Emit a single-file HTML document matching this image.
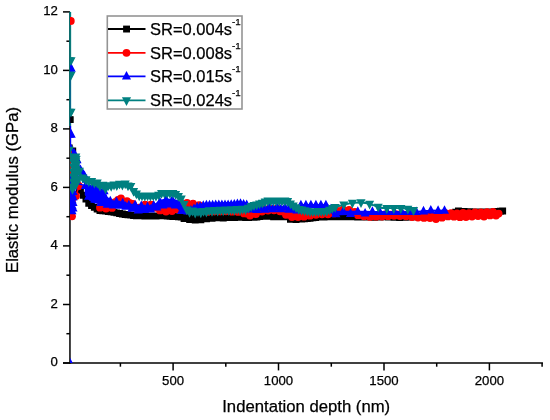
<!DOCTYPE html>
<html><head><meta charset="utf-8"><title>Elastic modulus vs indentation depth</title>
<style>
html,body{margin:0;padding:0;background:#fff;}
body{width:550px;height:420px;overflow:hidden;}
svg{display:block;}
text{font-family:"Liberation Sans",Arial,sans-serif;fill:#000;stroke:#000;stroke-width:0.25px;}
.tk{font-size:13.2px;}
.ti{font-size:16.7px;}
.lg{font-size:16.5px;}
.sup{font-size:9.8px;}
</style></head><body>
<svg width="550" height="420" viewBox="0 0 550 420">
<defs><clipPath id="pc"><rect x="70" y="11.9" width="472.20000000000005" height="351.1"/></clipPath></defs>
<path d="M69.95 11.9V363.75" stroke="#000" stroke-width="1.5" fill="none"/>
<path d="M63 363.0H542.95" stroke="#000" stroke-width="1.5" fill="none"/>
<path d="M63 363H69.95" stroke="#000" stroke-width="1.5"/>
<path d="M66.4 333.7H69.95" stroke="#000" stroke-width="1.5"/>
<path d="M63 304.5H69.95" stroke="#000" stroke-width="1.5"/>
<path d="M66.4 275.2H69.95" stroke="#000" stroke-width="1.5"/>
<path d="M63 245.9H69.95" stroke="#000" stroke-width="1.5"/>
<path d="M66.4 216.7H69.95" stroke="#000" stroke-width="1.5"/>
<path d="M63 187.4H69.95" stroke="#000" stroke-width="1.5"/>
<path d="M66.4 158.2H69.95" stroke="#000" stroke-width="1.5"/>
<path d="M63 128.9H69.95" stroke="#000" stroke-width="1.5"/>
<path d="M66.4 99.7H69.95" stroke="#000" stroke-width="1.5"/>
<path d="M63 70.4H69.95" stroke="#000" stroke-width="1.5"/>
<path d="M66.4 41.2H69.95" stroke="#000" stroke-width="1.5"/>
<path d="M63 11.9H69.95" stroke="#000" stroke-width="1.5"/>
<path d="M120.4 363.0V366.7" stroke="#000" stroke-width="1.5"/>
<path d="M173.1 363.0V370.4" stroke="#000" stroke-width="1.5"/>
<path d="M225.8 363.0V366.7" stroke="#000" stroke-width="1.5"/>
<path d="M278.5 363.0V370.4" stroke="#000" stroke-width="1.5"/>
<path d="M331.3 363.0V366.7" stroke="#000" stroke-width="1.5"/>
<path d="M384 363.0V370.4" stroke="#000" stroke-width="1.5"/>
<path d="M436.7 363.0V366.7" stroke="#000" stroke-width="1.5"/>
<path d="M489.4 363.0V370.4" stroke="#000" stroke-width="1.5"/>
<path d="M542.1 363.0V366.7" stroke="#000" stroke-width="1.5"/>
<path d="M70.2 11.9V126" stroke="#008080" stroke-width="1.9" fill="none"/>
<g clip-path="url(#pc)">
<path d="M80.4 190.2 L83 193.9 L86.5 199.4 L90 203.9 L93 206.5 L96 208.2 L100 210.4 L111 211.8 L124 214.2 L136 215.8 L150 216 L165 215.8 L180 216.9 L186 216.4 L200 217.4 L210 215.9 L225 215.4 L240 216.4 L247 217.5 L255 217.2 L265 215.9 L275 214.9 L286 214.9 L290 218.4 L300 218.9 L312 218 L320 217 L335 216.8 L350 216.8 L360 217 L375 217.2 L385 216.8 L400 217.5 L410 217 L425 216.5 L440 215.8 L450 215 L458 211 L466 211.8 L490 212 L499 211.5 L502.7 210.9 L502.7 210.9 L499 211.5 L490 212 L466 211.8 L458 211 L450 215 L440 215.8 L425 216.5 L410 217 L400 217.5 L385 216.8 L375 217.2 L360 217 L350 216.8 L335 216.8 L320 217 L312 218 L300 219.6 L290 219.6 L286 217.1 L275 217.1 L265 216.1 L255 217.2 L247 217.5 L240 217.6 L225 218.1 L210 218.6 L200 220.1 L186 220.1 L180 217.1 L165 215.8 L150 216 L136 215.8 L124 214.2 L111 211.8 L100 210.6 L96 208.2 L93 206.5 L90 204.6 L86.5 201.1 L83 195.1 L80.4 190.2 z" fill="#000000" stroke="#000000" stroke-width="1.5" stroke-linejoin="round"/>
<path d="M69.2 119.7 L69.2 148 L72.8 151 L75 172 L77 185 L79.5 189.5 L80.4 190.2 L83.2 195.3 L86 199 L88.8 203.3 L91.6 205.4 L94.4 207.3 L97.2 208.9 L100 210.5 L102.8 210.8 L105.6 211.1 L108.4 211.5 L111.2 211.8 L114 212.3 L116.8 212.9 L119.6 213.4 L122.4 213.9 L125.2 214.4 L128 214.8 L130.8 215.1 L133.6 215.4 L136.4 215.8 L139.2 215.8 L142 215.9 L144.8 215.9 L147.6 216 L150.4 216 L153.2 216 L156 215.9 L158.8 215.9 L161.6 215.8 L164.4 215.8 L167.2 216 L170 216.2 L172.8 216.4 L175.6 216.6 L178.4 216.9 L181.2 217 L184 218.5 L186.8 217.2 L189.6 219.5 L192.4 217.1 L195.2 219.9 L198 217.5 L200.8 219.9 L203.6 217.3 L206.4 218.9 L209.2 216.6 L212 218.3 L214.8 216.3 L217.6 217.8 L220.4 215.6 L223.2 218 L226 216 L228.8 217.7 L231.6 216.3 L234.4 217.6 L237.2 216.3 L240 217.4 L242.8 217.2 L245.6 217.4 L248.4 217.5 L251.2 217.4 L254 217.3 L256.8 217 L259.6 216.7 L262.4 216.3 L265.2 215.9 L268 216.3 L270.8 215.6 L273.6 216.8 L276.4 215.2 L279.2 216.8 L282 215 L284.8 216.7 L287.6 216.4 L290.4 219.4 L293.2 218.6 L296 219.5 L298.8 218.9 L301.6 219.1 L304.4 218.8 L307.2 218.5 L310 218.2 L312.8 217.9 L315.6 217.5 L318.4 217.2 L321.2 217 L324 216.9 L326.8 216.9 L329.6 216.8 L332.4 216.8 L335.2 216.8 L338 216.8 L340.8 216.8 L343.6 216.8 L346.4 216.8 L349.2 216.8 L352 216.8 L354.8 216.9 L357.6 216.9 L360.4 217 L363.2 217.1 L366 217.1 L368.8 217.1 L371.6 217.2 L374.4 217.2 L377.2 217.1 L380 217 L382.8 216.9 L385.6 216.8 L388.4 216.9 L391.2 217.1 L394 217.2 L396.8 217.3 L399.6 217.5 L402.4 217.4 L405.2 217.2 L408 217.1 L410.8 217 L413.6 216.9 L416.4 216.8 L419.2 216.7 L422 216.6 L424.8 216.5 L427.6 216.4 L430.4 216.2 L433.2 216.1 L436 215.9 L438.8 215.8 L441.6 215.6 L444.4 215.4 L447.2 215.2 L450 215 L452.8 213.6 L455.6 212.2 L458.4 211 L461.2 211.3 L464 211.6 L466.8 211.8 L469.6 211.8 L472.4 211.8 L475.2 211.8 L478 211.9 L480.8 211.9 L483.6 211.9 L486.4 212 L489.2 212 L492 211.9 L494.8 211.7 L497.6 211.6 L500.4 211.3 L502.7 210.9" fill="none" stroke="#000000" stroke-width="1.5" stroke-linejoin="round"/>
<path d="M65.8 116.2h6.9v6.9h-6.9zM65.8 144.6h6.9v6.9h-6.9zM69.3 147.6h6.9v6.9h-6.9zM71.5 168.6h6.9v6.9h-6.9zM73.5 181.6h6.9v6.9h-6.9zM76 186.1h6.9v6.9h-6.9zM77 186.8h6.9v6.9h-6.9zM79.8 191.8h6.9v6.9h-6.9zM82.5 195.5h6.9v6.9h-6.9zM85.3 199.8h6.9v6.9h-6.9zM88.1 202h6.9v6.9h-6.9zM90.9 203.9h6.9v6.9h-6.9zM93.7 205.5h6.9v6.9h-6.9zM96.5 207.1h6.9v6.9h-6.9zM99.3 207.4h6.9v6.9h-6.9zM102.1 207.7h6.9v6.9h-6.9zM104.9 208h6.9v6.9h-6.9zM107.7 208.3h6.9v6.9h-6.9zM110.5 208.9h6.9v6.9h-6.9zM113.3 209.4h6.9v6.9h-6.9zM116.1 210h6.9v6.9h-6.9zM118.9 210.5h6.9v6.9h-6.9zM121.7 211h6.9v6.9h-6.9zM124.5 211.3h6.9v6.9h-6.9zM127.3 211.7h6.9v6.9h-6.9zM130.1 212h6.9v6.9h-6.9zM132.9 212.3h6.9v6.9h-6.9zM135.8 212.4h6.9v6.9h-6.9zM138.6 212.4h6.9v6.9h-6.9zM141.4 212.5h6.9v6.9h-6.9zM144.2 212.5h6.9v6.9h-6.9zM147 212.5h6.9v6.9h-6.9zM149.8 212.5h6.9v6.9h-6.9zM152.6 212.5h6.9v6.9h-6.9zM155.4 212.4h6.9v6.9h-6.9zM158.2 212.4h6.9v6.9h-6.9zM161 212.4h6.9v6.9h-6.9zM163.8 212.5h6.9v6.9h-6.9zM166.6 212.8h6.9v6.9h-6.9zM169.4 213h6.9v6.9h-6.9zM172.2 213.2h6.9v6.9h-6.9zM175 213.4h6.9v6.9h-6.9zM177.8 213.6h6.9v6.9h-6.9zM180.6 215.1h6.9v6.9h-6.9zM183.4 213.7h6.9v6.9h-6.9zM186.2 216.1h6.9v6.9h-6.9zM189 213.7h6.9v6.9h-6.9zM191.8 216.5h6.9v6.9h-6.9zM194.6 214h6.9v6.9h-6.9zM197.4 216.4h6.9v6.9h-6.9zM200.2 213.9h6.9v6.9h-6.9zM203 215.4h6.9v6.9h-6.9zM205.8 213.1h6.9v6.9h-6.9zM208.6 214.8h6.9v6.9h-6.9zM211.4 212.9h6.9v6.9h-6.9zM214.2 214.4h6.9v6.9h-6.9zM217 212.2h6.9v6.9h-6.9zM219.8 214.5h6.9v6.9h-6.9zM222.6 212.6h6.9v6.9h-6.9zM225.4 214.2h6.9v6.9h-6.9zM228.2 212.9h6.9v6.9h-6.9zM231 214.1h6.9v6.9h-6.9zM233.8 212.8h6.9v6.9h-6.9zM236.6 213.9h6.9v6.9h-6.9zM239.4 213.8h6.9v6.9h-6.9zM242.2 214h6.9v6.9h-6.9zM245 214h6.9v6.9h-6.9zM247.8 213.9h6.9v6.9h-6.9zM250.6 213.8h6.9v6.9h-6.9zM253.4 213.6h6.9v6.9h-6.9zM256.2 213.2h6.9v6.9h-6.9zM259 212.9h6.9v6.9h-6.9zM261.8 212.5h6.9v6.9h-6.9zM264.6 212.9h6.9v6.9h-6.9zM267.4 212.1h6.9v6.9h-6.9zM270.2 213.4h6.9v6.9h-6.9zM273 211.8h6.9v6.9h-6.9zM275.8 213.4h6.9v6.9h-6.9zM278.6 211.6h6.9v6.9h-6.9zM281.4 213.3h6.9v6.9h-6.9zM284.2 212.9h6.9v6.9h-6.9zM287 215.9h6.9v6.9h-6.9zM289.8 215.2h6.9v6.9h-6.9zM292.6 216h6.9v6.9h-6.9zM295.4 215.5h6.9v6.9h-6.9zM298.2 215.7h6.9v6.9h-6.9zM301 215.3h6.9v6.9h-6.9zM303.8 215h6.9v6.9h-6.9zM306.6 214.8h6.9v6.9h-6.9zM309.4 214.4h6.9v6.9h-6.9zM312.2 214.1h6.9v6.9h-6.9zM315 213.7h6.9v6.9h-6.9zM317.8 213.5h6.9v6.9h-6.9zM320.6 213.5h6.9v6.9h-6.9zM323.4 213.4h6.9v6.9h-6.9zM326.2 213.4h6.9v6.9h-6.9zM329 213.3h6.9v6.9h-6.9zM331.8 213.3h6.9v6.9h-6.9zM334.6 213.3h6.9v6.9h-6.9zM337.4 213.3h6.9v6.9h-6.9zM340.2 213.3h6.9v6.9h-6.9zM343 213.3h6.9v6.9h-6.9zM345.8 213.3h6.9v6.9h-6.9zM348.6 213.4h6.9v6.9h-6.9zM351.4 213.4h6.9v6.9h-6.9zM354.2 213.5h6.9v6.9h-6.9zM357 213.6h6.9v6.9h-6.9zM359.8 213.6h6.9v6.9h-6.9zM362.6 213.7h6.9v6.9h-6.9zM365.4 213.7h6.9v6.9h-6.9zM368.2 213.7h6.9v6.9h-6.9zM371 213.8h6.9v6.9h-6.9zM373.8 213.7h6.9v6.9h-6.9zM376.6 213.5h6.9v6.9h-6.9zM379.4 213.4h6.9v6.9h-6.9zM382.2 213.3h6.9v6.9h-6.9zM385 213.5h6.9v6.9h-6.9zM387.8 213.6h6.9v6.9h-6.9zM390.6 213.8h6.9v6.9h-6.9zM393.4 213.9h6.9v6.9h-6.9zM396.2 214h6.9v6.9h-6.9zM399 213.9h6.9v6.9h-6.9zM401.8 213.8h6.9v6.9h-6.9zM404.6 213.6h6.9v6.9h-6.9zM407.4 213.5h6.9v6.9h-6.9zM410.2 213.4h6.9v6.9h-6.9zM413 213.3h6.9v6.9h-6.9zM415.8 213.2h6.9v6.9h-6.9zM418.6 213.1h6.9v6.9h-6.9zM421.4 213.1h6.9v6.9h-6.9zM424.2 212.9h6.9v6.9h-6.9zM427 212.8h6.9v6.9h-6.9zM429.8 212.6h6.9v6.9h-6.9zM432.6 212.5h6.9v6.9h-6.9zM435.4 212.4h6.9v6.9h-6.9zM438.2 212.2h6.9v6.9h-6.9zM441 212h6.9v6.9h-6.9zM443.8 211.8h6.9v6.9h-6.9zM446.6 211.5h6.9v6.9h-6.9zM449.4 210.1h6.9v6.9h-6.9zM452.2 208.7h6.9v6.9h-6.9zM455 207.6h6.9v6.9h-6.9zM457.8 207.9h6.9v6.9h-6.9zM460.6 208.1h6.9v6.9h-6.9zM463.4 208.3h6.9v6.9h-6.9zM466.2 208.3h6.9v6.9h-6.9zM469 208.4h6.9v6.9h-6.9zM471.8 208.4h6.9v6.9h-6.9zM474.6 208.4h6.9v6.9h-6.9zM477.4 208.5h6.9v6.9h-6.9zM480.2 208.5h6.9v6.9h-6.9zM483 208.5h6.9v6.9h-6.9zM485.8 208.5h6.9v6.9h-6.9zM488.6 208.4h6.9v6.9h-6.9zM491.4 208.3h6.9v6.9h-6.9zM494.2 208.1h6.9v6.9h-6.9zM497 207.8h6.9v6.9h-6.9zM499.2 207.5h6.9v6.9h-6.9z" fill="#000000"/>
<path d="M66.8 116.2h6.9v6.9h-6.9z" fill="#000000"/>
<path d="M97 199 L100 206 L104 206.5 L108 206.5 L112 206 L115 202 L118.5 197.5 L121 198 L124 201 L127 201 L130 201.5 L133 204 L136 206 L139.5 208 L143 206 L146 204 L149 204 L152 205 L156 207 L160 208.5 L164 209.5 L168 209.5 L172 209.5 L176 208.5 L180 206 L184 203 L188 203 L192 203.5 L195 204 L199 205 L203 208 L207 209.5 L211 210.5 L215 209.5 L220 209.5 L230 209.5 L240 210.5 L245 212 L248 214 L255 213 L260 210 L265 209 L270 208.5 L278 208.5 L284 212 L290 215 L300 215.5 L310 214 L312 213.5 L318 212.5 L325 212.5 L330 212.5 L336 211 L340 209.5 L345 209.5 L350 210 L356 212 L360 214.5 L370 215 L385 214.5 L400 214 L415 215.5 L430 216.5 L440 214.6 L445 212.6 L455 212.6 L465 212.6 L480 212.1 L490 211.6 L498.6 211.2 L498.6 216 L490 216.4 L480 216.9 L465 217.4 L455 217.4 L445 217.4 L440 219.4 L430 218.5 L415 217.5 L400 216 L385 216.5 L370 217 L360 216.5 L356 214 L350 212 L345 211.5 L340 211.5 L336 213 L330 214.5 L325 214.5 L318 214.5 L312 215.5 L310 216 L300 217.5 L290 217 L284 214 L278 210.5 L270 210.5 L265 211 L260 212 L255 215 L248 216 L245 214 L240 212.5 L230 211.5 L220 211.5 L215 211.5 L211 212.5 L207 211.5 L203 210 L199 207 L195 206 L192 205.5 L188 205 L184 205 L180 208 L176 210.5 L172 211.5 L168 211.5 L164 211.5 L160 210.5 L156 209 L152 207 L149 206 L146 206 L143 208 L139.5 210 L136 208 L133 206 L130 203.5 L127 203 L124 203 L121 200 L118.5 199.5 L115 204 L112 208 L108 208.5 L104 208.5 L100 208 L97 201 z" fill="#ff0000" stroke="#ff0000" stroke-width="1.5" stroke-linejoin="round"/>
<path d="M69.3 20.9 L69.3 150 L72 216.3 L76 196 L78.9 186 L94.2 191.2 L97 199.2 L100 207.7 L103 206.6 L106 208.5 L109 206.3 L112 207.9 L115 202.1 L118 199.8 L121 198.3 L124 202.8 L127 201.2 L130 203.2 L133 204 L136 207.8 L139 207.7 L142 208.2 L145 204.6 L148 205.7 L151 204.7 L154 207.7 L157 207.5 L160 210.4 L163 209.6 L166 211.5 L169 209.5 L172 211.1 L175 208.9 L178 209.3 L181 205.7 L184 204.6 L187 203 L190 205.1 L193 203.7 L196 206.2 L199 205.2 L202 209.2 L205 209 L208 211.8 L211 210.5 L214 211.4 L217 209.6 L220 211.4 L223 209.7 L226 211.3 L229 209.6 L232 211.7 L235 210.3 L238 211.9 L241 211.2 L244 213.4 L247 213.4 L250 215.6 L253 213.6 L256 214.1 L259 210.6 L262 211.5 L265 209.1 L268 210.5 L271 208.8 L274 210.3 L277 208.5 L280 211.3 L283 211.6 L286 214.8 L289 214.6 L292 217 L295 215.4 L298 217.1 L301 215.3 L304 216.7 L307 214.5 L310 215.7 L313 213.3 L316 214.8 L319 212.6 L322 214.3 L325 212.5 L328 214.3 L331 212.3 L334 213.4 L337 210.8 L340 211.1 L343 209.7 L346 211.2 L349 209.9 L352 212.3 L355 211.8 L358 215.2 L361 214.8 L364 216.3 L367 214.8 L370 216.9 L373 215.2 L376 216.7 L379 214.8 L382 216.6 L385 214.5 L388 216.2 L391 214.7 L394 215.8 L397 214.3 L400 216 L403 214.4 L406 216.3 L409 215.2 L412 217 L415 215.6 L418 217.5 L421 216.1 L424 217.9 L427 216.4 L430 218.1 L433 216.5 L436 219 L439 215 L442 217.7 L445 212.9 L448 216.4 L451 213.1 L454 216.7 L457 213.3 L460 217.2 L463 212.9 L466 217.1 L469 213.2 L472 216.5 L475 212.4 L478 216.1 L481 212.5 L484 216.5 L487 212.2 L490 215.4 L493 212 L496 215.5 L498.6 213.6" fill="none" stroke="#ff0000" stroke-width="1.5" stroke-linejoin="round"/>
<g fill="#ff0000"><circle cx="69.3" cy="20.9" r="3.9"/><circle cx="69.3" cy="150" r="3.9"/><circle cx="72" cy="216.3" r="3.9"/><circle cx="76" cy="196" r="3.9"/><circle cx="78.9" cy="186" r="3.9"/><circle cx="94.2" cy="191.2" r="3.9"/><circle cx="97" cy="199.2" r="3.9"/><circle cx="100" cy="207.7" r="3.9"/><circle cx="103" cy="206.6" r="3.9"/><circle cx="106" cy="208.5" r="3.9"/><circle cx="109" cy="206.3" r="3.9"/><circle cx="112" cy="207.9" r="3.9"/><circle cx="115" cy="202.1" r="3.9"/><circle cx="118" cy="199.8" r="3.9"/><circle cx="121" cy="198.3" r="3.9"/><circle cx="124" cy="202.8" r="3.9"/><circle cx="127" cy="201.2" r="3.9"/><circle cx="130" cy="203.2" r="3.9"/><circle cx="133" cy="204" r="3.9"/><circle cx="136" cy="207.8" r="3.9"/><circle cx="139" cy="207.7" r="3.9"/><circle cx="142" cy="208.2" r="3.9"/><circle cx="145" cy="204.6" r="3.9"/><circle cx="148" cy="205.7" r="3.9"/><circle cx="151" cy="204.7" r="3.9"/><circle cx="154" cy="207.7" r="3.9"/><circle cx="157" cy="207.5" r="3.9"/><circle cx="160" cy="210.4" r="3.9"/><circle cx="163" cy="209.6" r="3.9"/><circle cx="166" cy="211.5" r="3.9"/><circle cx="169" cy="209.5" r="3.9"/><circle cx="172" cy="211.1" r="3.9"/><circle cx="175" cy="208.9" r="3.9"/><circle cx="178" cy="209.3" r="3.9"/><circle cx="181" cy="205.7" r="3.9"/><circle cx="184" cy="204.6" r="3.9"/><circle cx="187" cy="203" r="3.9"/><circle cx="190" cy="205.1" r="3.9"/><circle cx="193" cy="203.7" r="3.9"/><circle cx="196" cy="206.2" r="3.9"/><circle cx="199" cy="205.2" r="3.9"/><circle cx="202" cy="209.2" r="3.9"/><circle cx="205" cy="209" r="3.9"/><circle cx="208" cy="211.8" r="3.9"/><circle cx="211" cy="210.5" r="3.9"/><circle cx="214" cy="211.4" r="3.9"/><circle cx="217" cy="209.6" r="3.9"/><circle cx="220" cy="211.4" r="3.9"/><circle cx="223" cy="209.7" r="3.9"/><circle cx="226" cy="211.3" r="3.9"/><circle cx="229" cy="209.6" r="3.9"/><circle cx="232" cy="211.7" r="3.9"/><circle cx="235" cy="210.3" r="3.9"/><circle cx="238" cy="211.9" r="3.9"/><circle cx="241" cy="211.2" r="3.9"/><circle cx="244" cy="213.4" r="3.9"/><circle cx="247" cy="213.4" r="3.9"/><circle cx="250" cy="215.6" r="3.9"/><circle cx="253" cy="213.6" r="3.9"/><circle cx="256" cy="214.1" r="3.9"/><circle cx="259" cy="210.6" r="3.9"/><circle cx="262" cy="211.5" r="3.9"/><circle cx="265" cy="209.1" r="3.9"/><circle cx="268" cy="210.5" r="3.9"/><circle cx="271" cy="208.8" r="3.9"/><circle cx="274" cy="210.3" r="3.9"/><circle cx="277" cy="208.5" r="3.9"/><circle cx="280" cy="211.3" r="3.9"/><circle cx="283" cy="211.6" r="3.9"/><circle cx="286" cy="214.8" r="3.9"/><circle cx="289" cy="214.6" r="3.9"/><circle cx="292" cy="217" r="3.9"/><circle cx="295" cy="215.4" r="3.9"/><circle cx="298" cy="217.1" r="3.9"/><circle cx="301" cy="215.3" r="3.9"/><circle cx="304" cy="216.7" r="3.9"/><circle cx="307" cy="214.5" r="3.9"/><circle cx="310" cy="215.7" r="3.9"/><circle cx="313" cy="213.3" r="3.9"/><circle cx="316" cy="214.8" r="3.9"/><circle cx="319" cy="212.6" r="3.9"/><circle cx="322" cy="214.3" r="3.9"/><circle cx="325" cy="212.5" r="3.9"/><circle cx="328" cy="214.3" r="3.9"/><circle cx="331" cy="212.3" r="3.9"/><circle cx="334" cy="213.4" r="3.9"/><circle cx="337" cy="210.8" r="3.9"/><circle cx="340" cy="211.1" r="3.9"/><circle cx="343" cy="209.7" r="3.9"/><circle cx="346" cy="211.2" r="3.9"/><circle cx="349" cy="209.9" r="3.9"/><circle cx="352" cy="212.3" r="3.9"/><circle cx="355" cy="211.8" r="3.9"/><circle cx="358" cy="215.2" r="3.9"/><circle cx="361" cy="214.8" r="3.9"/><circle cx="364" cy="216.3" r="3.9"/><circle cx="367" cy="214.8" r="3.9"/><circle cx="370" cy="216.9" r="3.9"/><circle cx="373" cy="215.2" r="3.9"/><circle cx="376" cy="216.7" r="3.9"/><circle cx="379" cy="214.8" r="3.9"/><circle cx="382" cy="216.6" r="3.9"/><circle cx="385" cy="214.5" r="3.9"/><circle cx="388" cy="216.2" r="3.9"/><circle cx="391" cy="214.7" r="3.9"/><circle cx="394" cy="215.8" r="3.9"/><circle cx="397" cy="214.3" r="3.9"/><circle cx="400" cy="216" r="3.9"/><circle cx="403" cy="214.4" r="3.9"/><circle cx="406" cy="216.3" r="3.9"/><circle cx="409" cy="215.2" r="3.9"/><circle cx="412" cy="217" r="3.9"/><circle cx="415" cy="215.6" r="3.9"/><circle cx="418" cy="217.5" r="3.9"/><circle cx="421" cy="216.1" r="3.9"/><circle cx="424" cy="217.9" r="3.9"/><circle cx="427" cy="216.4" r="3.9"/><circle cx="430" cy="218.1" r="3.9"/><circle cx="433" cy="216.5" r="3.9"/><circle cx="436" cy="219" r="3.9"/><circle cx="439" cy="215" r="3.9"/><circle cx="442" cy="217.7" r="3.9"/><circle cx="445" cy="212.9" r="3.9"/><circle cx="448" cy="216.4" r="3.9"/><circle cx="451" cy="213.1" r="3.9"/><circle cx="454" cy="216.7" r="3.9"/><circle cx="457" cy="213.3" r="3.9"/><circle cx="460" cy="217.2" r="3.9"/><circle cx="463" cy="212.9" r="3.9"/><circle cx="466" cy="217.1" r="3.9"/><circle cx="469" cy="213.2" r="3.9"/><circle cx="472" cy="216.5" r="3.9"/><circle cx="475" cy="212.4" r="3.9"/><circle cx="478" cy="216.1" r="3.9"/><circle cx="481" cy="212.5" r="3.9"/><circle cx="484" cy="216.5" r="3.9"/><circle cx="487" cy="212.2" r="3.9"/><circle cx="490" cy="215.4" r="3.9"/><circle cx="493" cy="212" r="3.9"/><circle cx="496" cy="215.5" r="3.9"/><circle cx="498.6" cy="213.6" r="3.9"/></g>
<g fill="#ff0000"><circle cx="70.8" cy="20.9" r="3.9"/></g>
<path d="M85.5 185.4 L90 185.4 L95 186.4 L100 188.4 L104 190.4 L107 197.4 L111 200.9 L120 201.9 L126 204.4 L136 205.2 L149 206.4 L157 203.4 L160 200.4 L165 199.4 L172 199.4 L177 200.4 L180 206.4 L186 211.4 L192 210.1 L197 207.1 L203 205.4 L205 205.1 L215 205.1 L230 204.9 L240 203.6 L247 205.1 L250 208.4 L265 207.4 L275 206.9 L285 206.9 L292 209.4 L298 210.4 L300 205.1 L315 205.1 L328 205.1 L333 211.4 L365 211.4 L380 211.9 L415 211.9 L430 210.4 L444.5 210.4 L444.5 210.8 L430 210.8 L415 211.9 L380 211.9 L365 213.8 L333 214.8 L328 205.1 L315 205.1 L300 205.1 L298 210.4 L292 210.3 L285 209.3 L275 209.3 L265 209.8 L250 209.8 L247 205.1 L240 203.6 L230 204.9 L215 205.1 L205 205.1 L203 206.8 L197 207.1 L192 210.1 L186 211.8 L180 210.8 L177 206.8 L172 205.3 L165 205.3 L160 208 L157 208.1 L149 210.6 L136 210.6 L126 206.8 L120 205.8 L111 205.3 L107 204.8 L104 204.3 L100 203.3 L95 202.8 L90 200.3 L85.5 194.8 z" fill="#0000ff" stroke="#0000ff" stroke-width="1.5" stroke-linejoin="round"/>
<path d="M69.4 68.5 L69.4 134.5 L70.3 148 L74.2 153.4 L77 160 L80.5 170 L82.5 173 L84.5 176 L86.5 179.5 L72 178 L73 180.8 L72 183.5 L73 186.2 L72 189 L73 191.8 L72 194.5 L73 197.2 L72 200 L73 202.8 L72 205.5 L73 208.2 L72 211 L72.5 186 L73 182 L85.5 185.9 L88.6 196.6 L91.7 188.1 L94.8 199.6 L97.9 188.2 L101 202.8 L104.1 191.1 L107.2 204.5 L110.3 201.1 L113.4 205.3 L116.5 202 L119.6 205.6 L122.7 203.2 L125.8 206.5 L128.9 205.2 L132 208.5 L135.1 205.1 L138.2 210.3 L141.3 205.8 L144.4 209.7 L147.5 207 L150.6 209.3 L153.7 205.5 L156.8 207.4 L159.9 202.1 L163 205.2 L166.1 199.7 L169.2 204.2 L172.3 200.1 L175.4 205.3 L178.5 204.1 L181.6 210.8 L184.7 210.4 L187.8 211.2 L190.9 210.4 L194 208.9 L197.1 207.1 L200.2 206.7 L203.3 205.7 L206.4 205.1 L209.5 205.1 L212.6 205.1 L215.7 205 L218.8 205 L221.9 205 L225 204.9 L228.1 204.9 L231.2 204.7 L234.3 204.3 L237.4 203.9 L240.5 203.7 L243.6 204.4 L246.7 205 L249.8 209.3 L252.9 208.3 L256.9 209.7 L260.9 207.8 L264.9 209.6 L268.9 207.2 L272.9 209.1 L276.9 207.4 L280.9 209.1 L284.9 207.3 L288.9 209.5 L292.9 209.6 L296.9 210.3 L300.9 205.1 L305.9 205.1 L310.9 205.1 L315.9 205.1 L320.9 205.1 L325.9 205.1 L330.9 209.2 L335.9 214.1 L343.2 211.5 L350.5 213.7 L357.8 211.6 L365.1 213.4 L372.4 211.7 L379.7 211.9 L387 211.9 L394.3 211.9 L401.6 211.9 L408.9 211.9 L416.2 211.8 L423.5 211.2 L430.8 210.4 L438.1 210.7 L444.5 210.6" fill="none" stroke="#0000ff" stroke-width="1.5" stroke-linejoin="round"/>
<path d="M69.4 63.1l4.55 8.6h-9.1zM69.4 129.1l4.55 8.6h-9.1zM70.3 142.6l4.55 8.6h-9.1zM74.2 148l4.55 8.6h-9.1zM77 154.6l4.55 8.6h-9.1zM80.5 164.6l4.55 8.6h-9.1zM82.5 167.6l4.55 8.6h-9.1zM84.5 170.6l4.55 8.6h-9.1zM86.5 174.1l4.55 8.6h-9.1zM72 172.6l4.55 8.6h-9.1zM73 175.3l4.55 8.6h-9.1zM72 178.1l4.55 8.6h-9.1zM73 180.8l4.55 8.6h-9.1zM72 183.6l4.55 8.6h-9.1zM73 186.3l4.55 8.6h-9.1zM72 189.1l4.55 8.6h-9.1zM73 191.8l4.55 8.6h-9.1zM72 194.6l4.55 8.6h-9.1zM73 197.3l4.55 8.6h-9.1zM72 200.1l4.55 8.6h-9.1zM73 202.8l4.55 8.6h-9.1zM72 205.6l4.55 8.6h-9.1zM72.5 180.6l4.55 8.6h-9.1zM73 176.6l4.55 8.6h-9.1zM85.5 180.5l4.55 8.6h-9.1zM88.6 191.2l4.55 8.6h-9.1zM91.7 182.7l4.55 8.6h-9.1zM94.8 194.2l4.55 8.6h-9.1zM97.9 182.8l4.55 8.6h-9.1zM101 197.4l4.55 8.6h-9.1zM104.1 185.7l4.55 8.6h-9.1zM107.2 199.1l4.55 8.6h-9.1zM110.3 195.7l4.55 8.6h-9.1zM113.4 199.9l4.55 8.6h-9.1zM116.5 196.6l4.55 8.6h-9.1zM119.6 200.2l4.55 8.6h-9.1zM122.7 197.8l4.55 8.6h-9.1zM125.8 201.1l4.55 8.6h-9.1zM128.9 199.8l4.55 8.6h-9.1zM132 203.1l4.55 8.6h-9.1zM135.1 199.7l4.55 8.6h-9.1zM138.2 204.9l4.55 8.6h-9.1zM141.3 200.4l4.55 8.6h-9.1zM144.4 204.3l4.55 8.6h-9.1zM147.5 201.6l4.55 8.6h-9.1zM150.6 203.9l4.55 8.6h-9.1zM153.7 200.1l4.55 8.6h-9.1zM156.8 202l4.55 8.6h-9.1zM159.9 196.7l4.55 8.6h-9.1zM163 199.8l4.55 8.6h-9.1zM166.1 194.3l4.55 8.6h-9.1zM169.2 198.8l4.55 8.6h-9.1zM172.3 194.7l4.55 8.6h-9.1zM175.4 199.9l4.55 8.6h-9.1zM178.5 198.7l4.55 8.6h-9.1zM181.6 205.4l4.55 8.6h-9.1zM184.7 205l4.55 8.6h-9.1zM187.8 205.8l4.55 8.6h-9.1zM190.9 205l4.55 8.6h-9.1zM194 203.5l4.55 8.6h-9.1zM197.1 201.7l4.55 8.6h-9.1zM200.2 201.3l4.55 8.6h-9.1zM203.3 200.3l4.55 8.6h-9.1zM206.4 199.7l4.55 8.6h-9.1zM209.5 199.7l4.55 8.6h-9.1zM212.6 199.7l4.55 8.6h-9.1zM215.7 199.6l4.55 8.6h-9.1zM218.8 199.6l4.55 8.6h-9.1zM221.9 199.6l4.55 8.6h-9.1zM225 199.5l4.55 8.6h-9.1zM228.1 199.5l4.55 8.6h-9.1zM231.2 199.3l4.55 8.6h-9.1zM234.3 198.9l4.55 8.6h-9.1zM237.4 198.5l4.55 8.6h-9.1zM240.5 198.3l4.55 8.6h-9.1zM243.6 199l4.55 8.6h-9.1zM246.7 199.6l4.55 8.6h-9.1zM249.8 203.9l4.55 8.6h-9.1zM252.9 202.9l4.55 8.6h-9.1zM256.9 204.3l4.55 8.6h-9.1zM260.9 202.4l4.55 8.6h-9.1zM264.9 204.2l4.55 8.6h-9.1zM268.9 201.8l4.55 8.6h-9.1zM272.9 203.7l4.55 8.6h-9.1zM276.9 202l4.55 8.6h-9.1zM280.9 203.7l4.55 8.6h-9.1zM284.9 201.9l4.55 8.6h-9.1zM288.9 204.1l4.55 8.6h-9.1zM292.9 204.2l4.55 8.6h-9.1zM296.9 204.9l4.55 8.6h-9.1zM300.9 199.7l4.55 8.6h-9.1zM305.9 199.7l4.55 8.6h-9.1zM310.9 199.7l4.55 8.6h-9.1zM315.9 199.7l4.55 8.6h-9.1zM320.9 199.7l4.55 8.6h-9.1zM325.9 199.7l4.55 8.6h-9.1zM330.9 203.8l4.55 8.6h-9.1zM335.9 208.7l4.55 8.6h-9.1zM343.2 206.1l4.55 8.6h-9.1zM350.5 208.3l4.55 8.6h-9.1zM357.8 206.2l4.55 8.6h-9.1zM365.1 208l4.55 8.6h-9.1zM372.4 206.3l4.55 8.6h-9.1zM379.7 206.5l4.55 8.6h-9.1zM387 206.5l4.55 8.6h-9.1zM394.3 206.5l4.55 8.6h-9.1zM401.6 206.5l4.55 8.6h-9.1zM408.9 206.5l4.55 8.6h-9.1zM416.2 206.4l4.55 8.6h-9.1zM423.5 205.8l4.55 8.6h-9.1zM430.8 205l4.55 8.6h-9.1zM438.1 205.3l4.55 8.6h-9.1zM444.5 205.2l4.55 8.6h-9.1z" fill="#0000ff"/>
<path d="M71.2 63.1l4.55 8.6h-9.1zM71.2 129.1l4.55 8.6h-9.1z" fill="#0000ff"/>
<path d="M70.4 126V151" stroke="#0000ff" stroke-width="1.6" fill="none"/>
<path d="M86 179.7 L93 181.2 L100.7 183.9 L105.8 185.2 L111 185.2 L118.5 183.9 L126 183.4 L131 186.2 L136 193.2 L140 195.7 L158 195.7 L161 193.1 L174 193.1 L178 195.8 L183 200.2 L187 209.7 L195 211.2 L203 211.2 L210 210.2 L247 208.7 L252 205.8 L256 204.8 L262 203.1 L268 200.8 L287 200.8 L292 205.1 L295 206.6 L298 209.1 L310 211.6 L328 211.1 L333 207.8 L337 206.8 L343 204.8 L350 203.3 L358 202.3 L366 202.8 L372 204.8 L378 206.8 L382 208.3 L405 208.3 L413.5 210.3 L413.5 210.3 L405 208.3 L382 208.3 L378 206.8 L372 204.8 L366 202.8 L358 202.3 L350 203.3 L343 204.8 L337 206.8 L333 207.8 L328 211.1 L310 211.6 L298 209.1 L295 206.6 L292 205.1 L287 200.8 L268 200.8 L262 203.1 L256 204.8 L252 205.8 L247 209.4 L210 211.4 L203 212.9 L195 212.9 L187 212.4 L183 201.4 L178 195.8 L174 193.1 L161 193.1 L158 195.9 L140 195.9 L136 194.9 L131 187.8 L126 184.4 L118.5 185.4 L111 186.4 L105.8 189.4 L100.7 186.4 L93 182.4 L86 180.9 z" fill="#008080" stroke="#008080" stroke-width="1.5" stroke-linejoin="round"/>
<path d="M69.2 -30 L69.2 60.5 L69.2 75 L69.2 112 L69.2 150 L72.5 156.6 L73.3 156.6 L76.1 159.1 L73.3 161.6 L76.1 164.1 L73.3 166.6 L76.1 169.1 L73.3 171.6 L76.1 174.1 L73.3 176.6 L76.1 179.1 L73.3 181.6 L76.1 184.1 L73.3 186.6 L75.8 156.6 L75.8 159 L75.8 161.5 L75.8 164 L75.8 166.5 L79.4 170.9 L82.8 177.6 L72.5 189.2 L74.5 184 L77.5 180 L85.5 179.5 L86 179.7 L88.8 181.3 L91.6 181.1 L94.4 182.8 L97.2 182.8 L100 185.9 L102.8 185 L105.6 188.7 L108.4 185.4 L111.2 186.2 L114 184.8 L116.8 185.4 L119.6 183.9 L122.4 184.8 L125.2 183.7 L128 185.7 L130.8 186.2 L133.6 191.2 L136.4 193.7 L139.2 195.7 L142 195.7 L144.8 195.9 L147.6 195.7 L150.4 195.9 L153.2 195.7 L156 195.9 L158.8 195 L161.6 193.1 L164.4 193.1 L167.2 193.1 L170 193.1 L172.8 193.1 L175.6 194.2 L178.4 196.2 L181.2 198.8 L184 204.1 L186.8 209.6 L189.6 212.2 L192.4 210.8 L195.2 212.9 L198 211.5 L200.8 212.7 L203.6 211.2 L206.4 212 L209.2 210.4 L212 211.1 L214.8 210.1 L217.6 211 L220.4 210 L223.2 210.7 L226 209.6 L228.8 210.4 L231.6 209.5 L234.4 210.1 L237.2 209.2 L240 209.8 L242.8 209 L245.6 209.4 L248.4 208 L251.2 206.3 L254 205.3 L256.8 204.6 L259.6 203.7 L262.4 202.9 L265.2 201.8 L268 200.8 L270.8 200.8 L273.6 200.8 L276.4 200.8 L279.2 200.8 L282 200.8 L284.8 200.8 L287.6 201.3 L290.4 203.7 L293.2 205.7 L296 207.4 L298.8 209.2 L301.6 209.8 L304.4 210.4 L307.2 211 L310 211.5 L312.8 211.5 L315.6 211.4 L318.4 211.3 L321.2 211.2 L324 211.2 L326.8 211.1 L329.6 210 L332.4 208.2 L335.2 207.2 L343.8 204.6 L352.4 203 L361 202.5 L369.6 204 L378.2 206.9 L386.8 208.3 L393.8 208.3 L400.8 208.3 L407.8 209 L413.5 210.3" fill="none" stroke="#008080" stroke-width="1.5" stroke-linejoin="round"/>
<path d="M69.2 -24.4l4.55 -8.8h-9.1zM69.2 66.1l4.55 -8.8h-9.1zM69.2 80.6l4.55 -8.8h-9.1zM69.2 117.6l4.55 -8.8h-9.1zM69.2 155.6l4.55 -8.8h-9.1zM72.5 162.2l4.55 -8.8h-9.1zM73.3 162.2l4.55 -8.8h-9.1zM76.1 164.7l4.55 -8.8h-9.1zM73.3 167.2l4.55 -8.8h-9.1zM76.1 169.7l4.55 -8.8h-9.1zM73.3 172.2l4.55 -8.8h-9.1zM76.1 174.7l4.55 -8.8h-9.1zM73.3 177.2l4.55 -8.8h-9.1zM76.1 179.7l4.55 -8.8h-9.1zM73.3 182.2l4.55 -8.8h-9.1zM76.1 184.7l4.55 -8.8h-9.1zM73.3 187.2l4.55 -8.8h-9.1zM76.1 189.7l4.55 -8.8h-9.1zM73.3 192.2l4.55 -8.8h-9.1zM75.8 162.2l4.55 -8.8h-9.1zM75.8 164.6l4.55 -8.8h-9.1zM75.8 167.1l4.55 -8.8h-9.1zM75.8 169.6l4.55 -8.8h-9.1zM75.8 172.1l4.55 -8.8h-9.1zM79.4 176.5l4.55 -8.8h-9.1zM82.8 183.2l4.55 -8.8h-9.1zM72.5 194.8l4.55 -8.8h-9.1zM74.5 189.6l4.55 -8.8h-9.1zM77.5 185.6l4.55 -8.8h-9.1zM85.5 185.1l4.55 -8.8h-9.1zM86 185.3l4.55 -8.8h-9.1zM88.8 186.9l4.55 -8.8h-9.1zM91.6 186.7l4.55 -8.8h-9.1zM94.4 188.4l4.55 -8.8h-9.1zM97.2 188.4l4.55 -8.8h-9.1zM100 191.5l4.55 -8.8h-9.1zM102.8 190.6l4.55 -8.8h-9.1zM105.6 194.3l4.55 -8.8h-9.1zM108.4 191l4.55 -8.8h-9.1zM111.2 191.8l4.55 -8.8h-9.1zM114 190.4l4.55 -8.8h-9.1zM116.8 191l4.55 -8.8h-9.1zM119.6 189.5l4.55 -8.8h-9.1zM122.4 190.4l4.55 -8.8h-9.1zM125.2 189.3l4.55 -8.8h-9.1zM128 191.3l4.55 -8.8h-9.1zM130.8 191.8l4.55 -8.8h-9.1zM133.6 196.8l4.55 -8.8h-9.1zM136.4 199.3l4.55 -8.8h-9.1zM139.2 201.3l4.55 -8.8h-9.1zM142 201.3l4.55 -8.8h-9.1zM144.8 201.5l4.55 -8.8h-9.1zM147.6 201.3l4.55 -8.8h-9.1zM150.4 201.5l4.55 -8.8h-9.1zM153.2 201.3l4.55 -8.8h-9.1zM156 201.5l4.55 -8.8h-9.1zM158.8 200.6l4.55 -8.8h-9.1zM161.6 198.7l4.55 -8.8h-9.1zM164.4 198.7l4.55 -8.8h-9.1zM167.2 198.7l4.55 -8.8h-9.1zM170 198.7l4.55 -8.8h-9.1zM172.8 198.7l4.55 -8.8h-9.1zM175.6 199.8l4.55 -8.8h-9.1zM178.4 201.8l4.55 -8.8h-9.1zM181.2 204.4l4.55 -8.8h-9.1zM184 209.7l4.55 -8.8h-9.1zM186.8 215.2l4.55 -8.8h-9.1zM189.6 217.8l4.55 -8.8h-9.1zM192.4 216.4l4.55 -8.8h-9.1zM195.2 218.5l4.55 -8.8h-9.1zM198 217.1l4.55 -8.8h-9.1zM200.8 218.3l4.55 -8.8h-9.1zM203.6 216.8l4.55 -8.8h-9.1zM206.4 217.6l4.55 -8.8h-9.1zM209.2 216l4.55 -8.8h-9.1zM212 216.7l4.55 -8.8h-9.1zM214.8 215.7l4.55 -8.8h-9.1zM217.6 216.6l4.55 -8.8h-9.1zM220.4 215.6l4.55 -8.8h-9.1zM223.2 216.3l4.55 -8.8h-9.1zM226 215.2l4.55 -8.8h-9.1zM228.8 216l4.55 -8.8h-9.1zM231.6 215.1l4.55 -8.8h-9.1zM234.4 215.7l4.55 -8.8h-9.1zM237.2 214.8l4.55 -8.8h-9.1zM240 215.4l4.55 -8.8h-9.1zM242.8 214.6l4.55 -8.8h-9.1zM245.6 215l4.55 -8.8h-9.1zM248.4 213.6l4.55 -8.8h-9.1zM251.2 211.9l4.55 -8.8h-9.1zM254 210.9l4.55 -8.8h-9.1zM256.8 210.2l4.55 -8.8h-9.1zM259.6 209.3l4.55 -8.8h-9.1zM262.4 208.5l4.55 -8.8h-9.1zM265.2 207.4l4.55 -8.8h-9.1zM268 206.4l4.55 -8.8h-9.1zM270.8 206.4l4.55 -8.8h-9.1zM273.6 206.4l4.55 -8.8h-9.1zM276.4 206.4l4.55 -8.8h-9.1zM279.2 206.4l4.55 -8.8h-9.1zM282 206.4l4.55 -8.8h-9.1zM284.8 206.4l4.55 -8.8h-9.1zM287.6 206.9l4.55 -8.8h-9.1zM290.4 209.3l4.55 -8.8h-9.1zM293.2 211.3l4.55 -8.8h-9.1zM296 213l4.55 -8.8h-9.1zM298.8 214.8l4.55 -8.8h-9.1zM301.6 215.4l4.55 -8.8h-9.1zM304.4 216l4.55 -8.8h-9.1zM307.2 216.6l4.55 -8.8h-9.1zM310 217.1l4.55 -8.8h-9.1zM312.8 217.1l4.55 -8.8h-9.1zM315.6 217l4.55 -8.8h-9.1zM318.4 216.9l4.55 -8.8h-9.1zM321.2 216.8l4.55 -8.8h-9.1zM324 216.8l4.55 -8.8h-9.1zM326.8 216.7l4.55 -8.8h-9.1zM329.6 215.6l4.55 -8.8h-9.1zM332.4 213.8l4.55 -8.8h-9.1zM335.2 212.8l4.55 -8.8h-9.1zM343.8 210.2l4.55 -8.8h-9.1zM352.4 208.6l4.55 -8.8h-9.1zM361 208.1l4.55 -8.8h-9.1zM369.6 209.6l4.55 -8.8h-9.1zM378.2 212.5l4.55 -8.8h-9.1zM386.8 213.9l4.55 -8.8h-9.1zM393.8 213.9l4.55 -8.8h-9.1zM400.8 213.9l4.55 -8.8h-9.1zM407.8 214.6l4.55 -8.8h-9.1zM413.5 215.9l4.55 -8.8h-9.1z" fill="#008080"/>
<path d="M71 66.1l4.55 -8.8h-9.1zM71 80.6l4.55 -8.8h-9.1zM71 117.6l4.55 -8.8h-9.1z" fill="#008080"/>
<path d="M69.6 356.9l4.55 8.6h-9.1z" fill="#0000ff"/>
</g>
<text x="57.8" y="366.3" text-anchor="end" class="tk">0</text>
<text x="57.8" y="307.8" text-anchor="end" class="tk">2</text>
<text x="57.8" y="249.2" text-anchor="end" class="tk">4</text>
<text x="57.8" y="190.7" text-anchor="end" class="tk">6</text>
<text x="57.8" y="132.2" text-anchor="end" class="tk">8</text>
<text x="57.8" y="73.7" text-anchor="end" class="tk">10</text>
<text x="57.8" y="15.2" text-anchor="end" class="tk">12</text>
<text x="173.1" y="384.6" text-anchor="middle" class="tk">500</text>
<text x="278.5" y="384.6" text-anchor="middle" class="tk">1000</text>
<text x="384" y="384.6" text-anchor="middle" class="tk">1500</text>
<text x="489.4" y="384.6" text-anchor="middle" class="tk">2000</text>
<text x="306.2" y="412" text-anchor="middle" class="ti">Indentation depth (nm)</text>
<text transform="translate(17.5 190) rotate(-90)" text-anchor="middle" class="ti">Elastic modulus (GPa)</text>
<rect x="107.3" y="16" width="134.7" height="93" fill="#fff" stroke="#949494" stroke-width="1.6"/>
<path d="M108 29.0H145.5" stroke="#000000" stroke-width="1.8"/>
<path d="M123.1 25.6h6.9v6.9h-6.9z" fill="#000000"/>
<text x="150" y="34.9" class="lg">SR=0.004s<tspan class="sup" dy="-10">-1</tspan></text>
<path d="M108 52.8H145.5" stroke="#ff0000" stroke-width="1.8"/>
<g fill="#ff0000"><circle cx="126.5" cy="52.8" r="3.9"/></g>
<text x="150" y="58.7" class="lg">SR=0.008s<tspan class="sup" dy="-10">-1</tspan></text>
<path d="M108 76.3H145.5" stroke="#0000ff" stroke-width="1.8"/>
<path d="M126.5 70.9l4.55 8.6h-9.1z" fill="#0000ff"/>
<text x="150" y="82.2" class="lg">SR=0.015s<tspan class="sup" dy="-10">-1</tspan></text>
<path d="M108 100.4H145.5" stroke="#008080" stroke-width="1.8"/>
<path d="M126.5 106l4.55 -8.8h-9.1z" fill="#008080"/>
<text x="150" y="106.3" class="lg">SR=0.024s<tspan class="sup" dy="-10">-1</tspan></text>
</svg>
</body></html>
